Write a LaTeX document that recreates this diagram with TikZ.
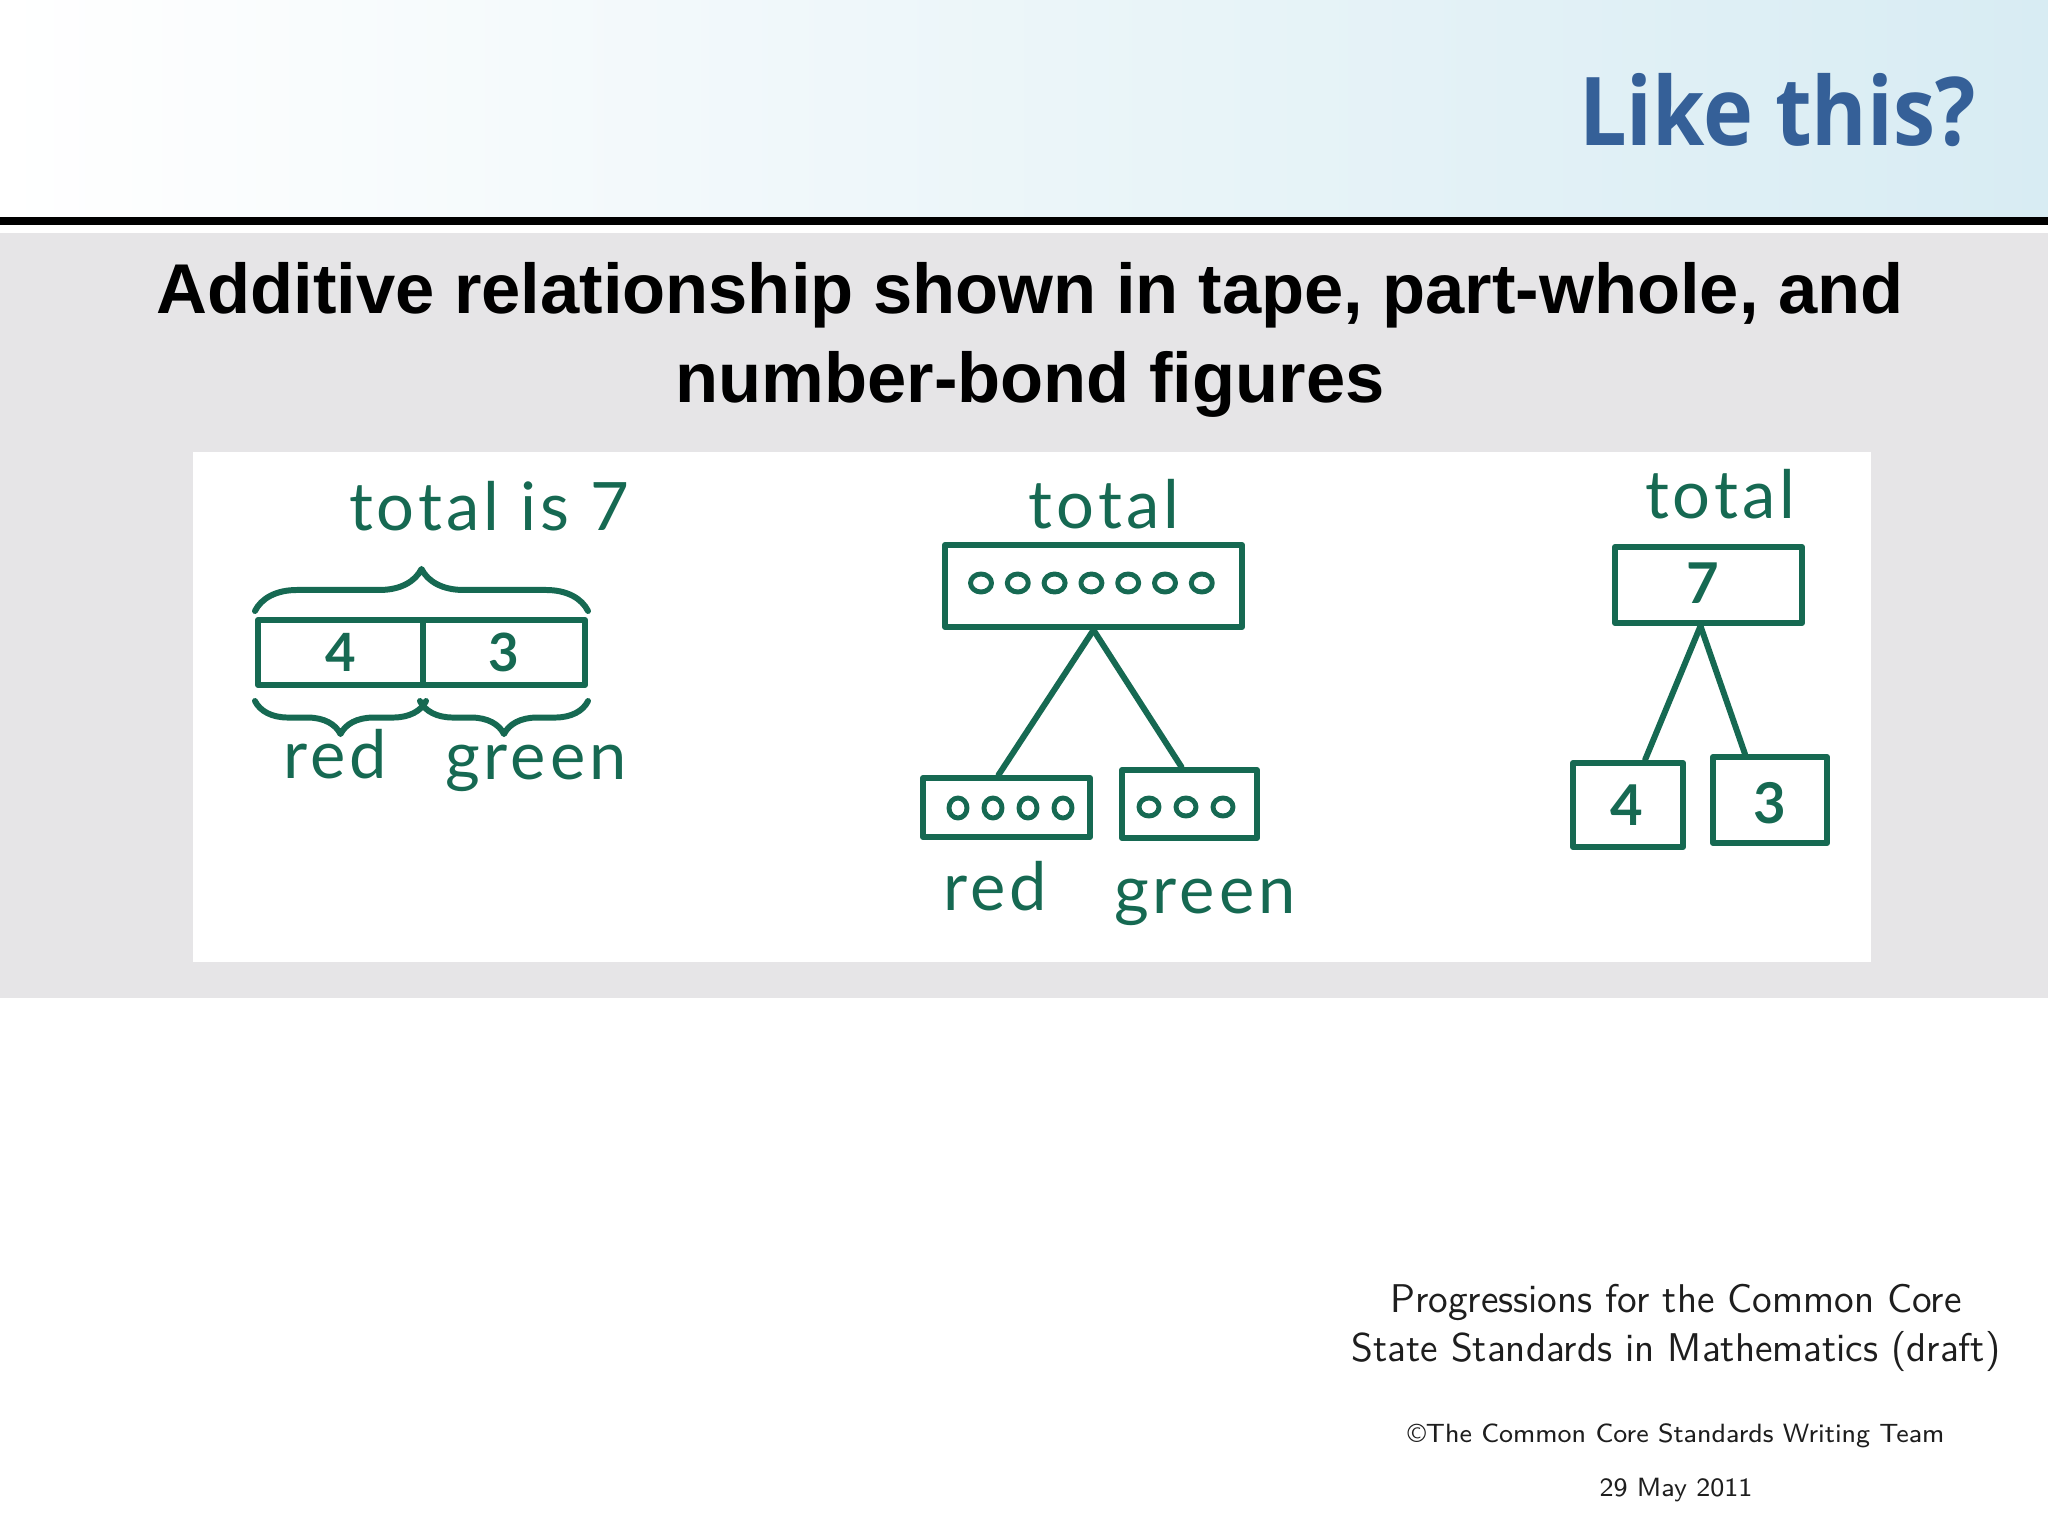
\documentclass[tikz,border=0pt]{standalone}
\usepackage{fontspec}
\newfontfamily\titlefont{Liberation Sans}
\newfontfamily\headfont{Open Sans}
\newfontfamily\handfont{Lato}[LetterSpace=6]
\usetikzlibrary{decorations.pathreplacing}
\definecolor{ink}{RGB}{22,105,82}
\definecolor{headblue}{RGB}{216,236,243}
\definecolor{likeblue}{RGB}{53,96,152}
\definecolor{bandgray}{RGB}{230,229,231}
\definecolor{footgray}{RGB}{30,30,30}
\begin{document}
\begin{tikzpicture}[x=0.01cm,y=-0.01cm,
    ink/.style={draw=ink,line width=1.7pt,line join=round,line cap=round},
    inkbox/.style={ink,rectangle,inner sep=0pt},
    dot/.style={ink,line width=1.4pt},
    hand/.style={text=ink,font=\handfont\fontsize{19}{23}\selectfont,anchor=base},
    digit/.style={text=ink,font=\handfont\bfseries\fontsize{15}{18}\selectfont},
    title/.style={font=\titlefont\bfseries\fontsize{20.05}{24}\selectfont,anchor=base},
    foot/.style={text=footgray,font=\sffamily\fontsize{11.4}{14}\selectfont,anchor=base},
    smallfoot/.style={text=footgray,font=\sffamily\fontsize{7.5}{9}\selectfont,anchor=base}]

    \useasboundingbox (0,0) rectangle (2048,1536);
    \fill[white] (0,0) rectangle (2048,1536);

    % header
    \shade[left color=white,right color=headblue] (0,0) rectangle (2048,217);
    \fill[black] (0,217) rectangle (2048,225);
    \node[text=likeblue,font=\headfont\bfseries\fontsize{27}{32}\selectfont,anchor=base east] (like) at (1988,145) {\scalebox{0.89}[1]{Like this?}};

    % gray band with the figure
    \fill[bandgray] (0,233) rectangle (2048,998);
    \fill[white] (193,452) rectangle (1871,962);
    \node[title] (title1) at (1030,313) {Additive relationship shown in tape, part-whole, and};
    \node[title] (title2) at (1030,402) {number-bond figures};

    % tape
    \node[inkbox,minimum width=1.65cm,minimum height=0.65cm] (tape4) at (340.5,652.5) {};
    \node[inkbox,minimum width=1.62cm,minimum height=0.65cm] (tape3) at (504,652.5) {};
    \node[digit] (four) at (tape4) {4};
    \node[digit] (three) at (tape3) {3};
    \draw[ink,decorate,decoration={brace,amplitude=0.42cm,raise=0.06cm}]
        (tape4.north west) -- (tape3.north east);
    \draw[ink,decorate,decoration={brace,amplitude=0.33cm,raise=0.13cm}]
        (tape4.south east) -- (tape4.south west);
    \draw[ink,decorate,decoration={brace,amplitude=0.33cm,raise=0.13cm}]
        (tape3.south east) -- (tape3.south west);
    \node[hand] (tapetotal) at (489,530) {total is 7};
    \node[hand] (tapered) at (335,778) {red};
    \node[hand] (tapegreen) at (536,779) {green};

    % part-whole
    \node[inkbox,minimum width=2.97cm,minimum height=0.82cm] (whole) at (1093.5,586) {};
    \node[inkbox,minimum width=1.67cm,minimum height=0.59cm] (partred) at (1006.5,807.5) {};
    \node[inkbox,minimum width=1.35cm,minimum height=0.68cm] (partgreen) at (1189.5,804) {};
    \foreach \i in {0,...,6}
        \draw[dot] (981+\i*36.8,583) ellipse (0.105cm and 0.09cm);
    \foreach \i in {0,...,3}
        \draw[dot] (958+\i*35,808) ellipse (0.09cm and 0.1cm);
    \foreach \i in {0,...,2}
        \draw[dot] (1149+\i*37,807) ellipse (0.1cm and 0.09cm);
    \draw[ink] (whole.south) -- ([xshift=-0.08cm]partred.north);
    \draw[ink] (whole.south) -- ([xshift=-0.08cm]partgreen.north);
    \node[hand] (wholetotal) at (1104,528) {total};
    \node[hand] (partredlbl) at (995,910) {red};
    \node[hand] (partgreenlbl) at (1205,913) {green};

    % number bond
    \node[inkbox,minimum width=1.87cm,minimum height=0.76cm] (bondtop) at (1708.5,585) {};
    \node[inkbox,minimum width=1.10cm,minimum height=0.84cm] (bondl) at (1628,805) {};
    \node[inkbox,minimum width=1.14cm,minimum height=0.86cm] (bondr) at (1770,800) {};
    \node[digit,font=\handfont\bfseries\fontsize{16}{19}\selectfont] (seven) at (1703,583) {7};
    \node[digit,font=\handfont\bfseries\fontsize{16}{19}\selectfont] (bfour) at (1627,805) {4};
    \node[digit,font=\handfont\bfseries\fontsize{16}{19}\selectfont] (bthree) at (1770,803) {3};
    \draw[ink] ([xshift=-0.08cm]bondtop.south) -- ([xshift=0.17cm]bondl.north);
    \draw[ink] ([xshift=-0.08cm]bondtop.south) -- ([xshift=-0.25cm]bondr.north);
    \node[hand] (bondtotal) at (1720,518) {total};

    % footer
    \node[foot] (prog1) at (1676,1312) {Progressions for the Common Core};
    \node[foot] (prog2) at (1676,1361) {State Standards in Mathematics (draft)};
    \node[smallfoot] (team) at (1676,1442) {\textcopyright The Common Core Standards Writing Team};
    \node[smallfoot] (date) at (1676,1496) {29 May 2011};
\end{tikzpicture}
\end{document}
